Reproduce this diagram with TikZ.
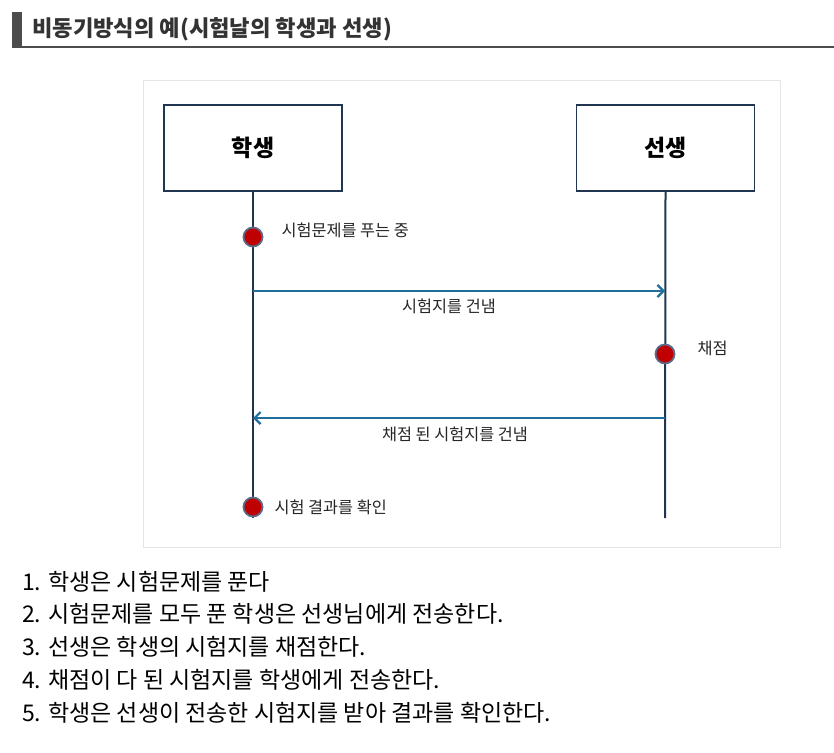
\documentclass[tikz,border=0pt]{standalone}
\usepackage{fontspec}
\setmainfont{Noto Sans CJK KR}
\usetikzlibrary{arrows.meta}
\definecolor{navy}{HTML}{1F3550}
\definecolor{arr}{HTML}{1F6E9E}
\definecolor{dotred}{HTML}{C00000}
\definecolor{dotbd}{HTML}{5A6A8A}
\tikzset{x=1pt,y=-1pt,
 actor/.style={draw=navy,line width=1.8pt,fill=white,minimum width=178pt,minimum height=86pt,inner sep=0pt,font=\fontsize{23}{26}\selectfont\bfseries},
 life/.style={draw=navy,line width=2pt},
 msg/.style={draw=arr,line width=2.2pt,-{Straight Barb[length=6pt,width=12pt]}},
 dot/.style={circle,draw=dotbd,line width=1.8pt,fill=dotred,minimum size=19pt,inner sep=0pt},
 lbl/.style={font=\fontsize{16.3}{18}\selectfont,text=black!85},
 item/.style={anchor=west,font=\fontsize{23}{26}\selectfont,inner sep=0pt}}
\begin{document}
\begin{tikzpicture}
\useasboundingbox (0,0) rectangle (834,752);
\fill[white] (0,0) rectangle (834,752);
\fill[black!70] (12,12) rectangle (22,47);
\draw[black!70,line width=2.5pt] (12,47) -- (834,47);
\node[anchor=west,inner sep=0pt,font=\fontsize{22.2}{25}\selectfont\bfseries,text=black!80] (title) at (32,29) {비동기방식의 예(시험날의 학생과 선생)};
\draw[black!10,line width=0.8pt,fill=white] (143,80) rectangle (780,547);
\node[actor] (s) at (253,148) {학생};
\node[actor] (t) at (665.5,148) {선생};
\coordinate (se) at (253,518);
\coordinate (te) at (665,518);
\draw[life] (s.south) -- (se);
\draw[life] (t.south) -- (te);
\node[dot] (d1) at (253,237) {};
\node[dot] (d2) at (665,354) {};
\node[dot] (d3) at (253,507) {};
\node[lbl,anchor=west] (l1) at (278,230) {시험문제를 푸는 중};
\node[lbl,anchor=west] (l2) at (694,348) {채점};
\node[lbl,anchor=west] (l3) at (271,507) {시험 결과를 확인};
\coordinate (a1s) at (253,291); \coordinate (a1e) at (665,291);
\coordinate (a2s) at (665,418); \coordinate (a2e) at (253,418);
\draw[msg] (a1s) -- (a1e);
\draw[msg] (a2s) -- (a2e);
\node[lbl] (m1) at (449,306) {시험지를 건냄};
\node[lbl] (m2) at (455,434) {채점 된 시험지를 건냄};
\node[item] (i1) at (22,582) {1. 학생은 시험문제를 푼다};
\node[item] (i2) at (22,614) {2. 시험문제를 모두 푼 학생은 선생님에게 전송한다.};
\node[item] (i3) at (22,647) {3. 선생은 학생의 시험지를 채점한다.};
\node[item] (i4) at (22,680) {4. 채점이 다 된 시험지를 학생에게 전송한다.};
\node[item] (i5) at (22,713) {5. 학생은 선생이 전송한 시험지를 받아 결과를 확인한다.};
\end{tikzpicture}
\end{document}
